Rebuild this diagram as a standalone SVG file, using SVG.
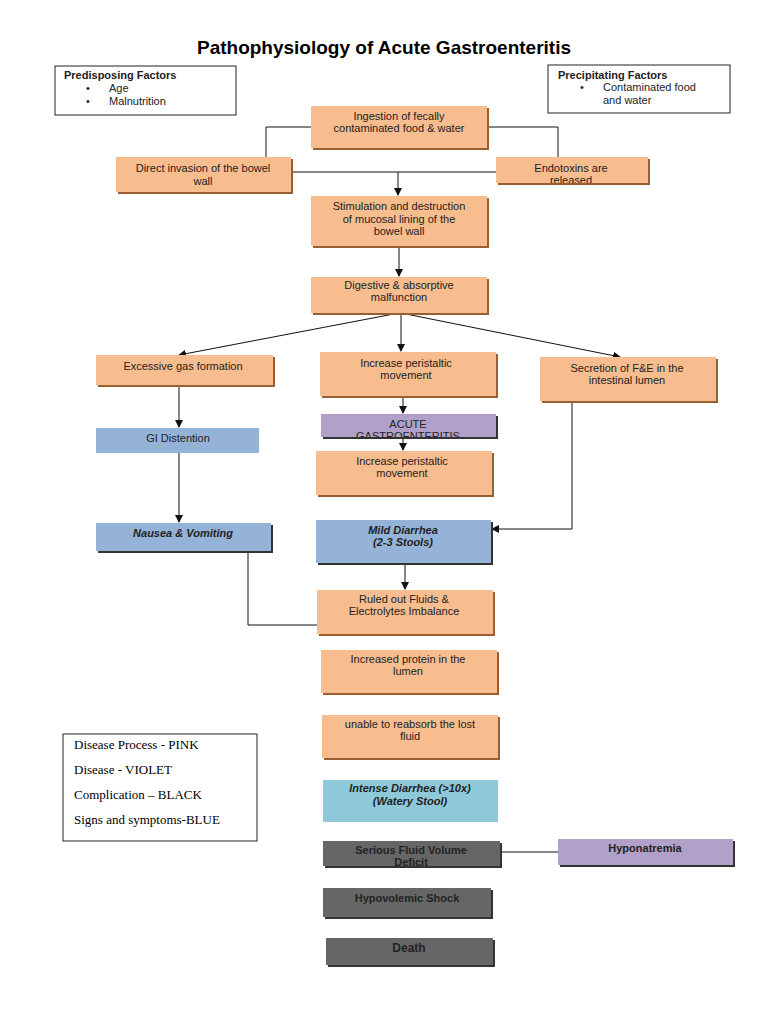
<svg xmlns="http://www.w3.org/2000/svg" width="768" height="1024" viewBox="0 0 768 1024">
<style>
text{font-family:"Liberation Sans",Arial,sans-serif;font-size:11px;fill:#222;text-anchor:middle}
.t{font-size:19px;font-weight:bold;fill:#000}
.b{font-weight:bold}
.bi{font-weight:bold;font-style:italic}
.l{text-anchor:start}
.lg{font-family:"Liberation Serif","Times New Roman",serif;font-size:13px;text-anchor:start;fill:#000}
.box{stroke:none}
.pk{fill:#f8bd8e}
.bl{fill:#95b3d7}
.vi{fill:#b1a0c7}
.cy{fill:#8dc9d9}
.gr{fill:#666}
.sh{fill:#9b5e30}
.shd{fill:#333}
.fr{fill:#fff;stroke:#222;stroke-width:1}
.c{fill:none;stroke:#111;stroke-width:1}
</style>
<defs>
<marker id="a" markerWidth="8" markerHeight="8" refX="7" refY="4" orient="auto" markerUnits="userSpaceOnUse"><path d="M0,0 L8,4 L0,8 z" fill="#111"/></marker>
<clipPath id="c1"><rect x="496" y="157" width="152" height="26"/></clipPath>
<clipPath id="c2"><rect x="321" y="414" width="175" height="23"/></clipPath>
<clipPath id="c3"><rect x="323" y="841" width="177" height="25"/></clipPath>
</defs>
<text class="t" x="384" y="54">Pathophysiology of Acute Gastroenteritis</text>
<g id="predisposing"><rect class="fr" x="55" y="66" width="181" height="49"/><text class="b l" x="64" y="79">Predisposing Factors</text><text class="l" x="86" y="92">•</text><text class="l" x="109" y="92">Age</text><text class="l" x="86" y="105">•</text><text class="l" x="109" y="105">Malnutrition</text></g>
<g id="precipitating"><rect class="fr" x="548" y="65" width="182" height="48"/><text class="b l" x="558" y="79">Precipitating Factors</text><text class="l" x="580" y="91">•</text><text class="l" x="603" y="91">Contaminated food</text><text class="l" x="603" y="104">and water</text></g>
<g id="connectors">
<path class="c" d="M311,127 H266 V158"/>
<path class="c" d="M487,127 H558 V158"/>
<path class="c" d="M291,172 H496"/>
<path class="c" d="M398,172 V195" marker-end="url(#a)"/>
<path class="c" d="M399,246 V276" marker-end="url(#a)"/>
<path class="c" d="M399,313 L179,355" marker-end="url(#a)"/>
<path class="c" d="M401,313 V351" marker-end="url(#a)"/>
<path class="c" d="M401,313 L620,357" marker-end="url(#a)"/>
<path class="c" d="M179,385 V427" marker-end="url(#a)"/>
<path class="c" d="M403,396 V413" marker-end="url(#a)"/>
<path class="c" d="M403,437 V450" marker-end="url(#a)"/>
<path class="c" d="M179,453 V522" marker-end="url(#a)"/>
<path class="c" d="M405,563 V589" marker-end="url(#a)"/>
<path class="c" d="M572,401 V529 H492" marker-end="url(#a)"/>
<path class="c" d="M248,551 V625 H317"/>
<path class="c" d="M500,852 H558" stroke="#555"/>
</g>
<g id="ingestion"><rect class="sh" x="313" y="108" width="176" height="42"/><rect class="pk" x="311" y="106" width="176" height="42"/><text x="399" y="120">Ingestion of fecally</text><text x="399" y="132">contaminated food &amp; water</text></g>
<g id="direct"><rect class="sh" x="118" y="159" width="175" height="35"/><rect class="pk" x="116" y="157" width="175" height="35"/><text x="203" y="172">Direct invasion of the bowel</text><text x="203" y="185">wall</text></g>
<g id="endotoxins"><rect class="sh" x="498" y="159" width="152" height="26"/><rect class="pk" x="496" y="157" width="152" height="26"/><g clip-path="url(#c1)"><text x="571" y="172">Endotoxins are</text><text x="571" y="184">released</text></g></g>
<g id="stimulation"><rect class="sh" x="313" y="198" width="176" height="50"/><rect class="pk" x="311" y="196" width="176" height="50"/><text x="399" y="210">Stimulation and destruction</text><text x="399" y="223">of mucosal lining of the</text><text x="399" y="235">bowel wall</text></g>
<g id="digestive"><rect class="sh" x="313" y="279" width="176" height="36"/><rect class="pk" x="311" y="277" width="176" height="36"/><text x="399" y="289">Digestive &amp; absorptive</text><text x="399" y="301">malfunction</text></g>
<g id="gas"><rect class="sh" x="98" y="357" width="177" height="30"/><rect class="pk" x="96" y="355" width="177" height="30"/><text x="183" y="370">Excessive gas formation</text></g>
<g id="peristaltic1"><rect class="sh" x="322" y="354" width="176" height="44"/><rect class="pk" x="320" y="352" width="176" height="44"/><text x="406" y="367">Increase peristaltic</text><text x="406" y="379">movement</text></g>
<g id="secretion"><rect class="sh" x="542" y="359" width="176" height="44"/><rect class="pk" x="540" y="357" width="176" height="44"/><text x="627" y="372">Secretion of F&amp;E in the</text><text x="627" y="384">intestinal lumen</text></g>
<g id="acute"><rect class="shd" x="323" y="416" width="175" height="23"/><rect class="vi" x="321" y="414" width="175" height="23"/><g clip-path="url(#c2)"><text x="408" y="428">ACUTE</text><text x="408" y="440">GASTROENTERITIS</text></g></g>
<g id="peristaltic2"><rect class="sh" x="318" y="453" width="176" height="44"/><rect class="pk" x="316" y="451" width="176" height="44"/><text x="402" y="465">Increase peristaltic</text><text x="402" y="477">movement</text></g>
<g id="gi"><rect class="bl" x="96" y="428" width="163" height="25"/><text x="178" y="442">GI Distention</text></g>
<g id="nausea"><rect class="shd" x="98" y="525" width="175" height="28"/><rect class="bl" x="96" y="523" width="175" height="28"/><text class="bi" x="183" y="537">Nausea &amp; Vomiting</text></g>
<g id="mild"><rect class="shd" x="318" y="522" width="175" height="43"/><rect class="bl" x="316" y="520" width="175" height="43"/><text class="bi" x="403" y="534">Mild Diarrhea</text><text class="bi" x="403" y="546">(2-3 Stools)</text></g>
<g id="ruled"><rect class="sh" x="319" y="592" width="176" height="44"/><rect class="pk" x="317" y="590" width="176" height="44"/><text x="404" y="603">Ruled out Fluids &amp;</text><text x="404" y="615">Electrolytes Imbalance</text></g>
<g id="protein"><rect class="sh" x="323" y="652" width="176" height="43"/><rect class="pk" x="321" y="650" width="176" height="43"/><text x="408" y="663">Increased protein in the</text><text x="408" y="675">lumen</text></g>
<g id="unable"><rect class="sh" x="324" y="717" width="176" height="43"/><rect class="pk" x="322" y="715" width="176" height="43"/><text x="410" y="728">unable to reabsorb the lost</text><text x="410" y="740">fluid</text></g>
<g id="intense"><rect class="cy" x="323" y="780" width="175" height="42"/><text class="bi" x="410" y="792">Intense Diarrhea (&gt;10x)</text><text class="bi" x="410" y="805">(Watery Stool)</text></g>
<g id="serious"><rect class="shd" x="325" y="843" width="177" height="25"/><rect class="gr" x="323" y="841" width="177" height="25"/><g clip-path="url(#c3)"><text class="b" x="411" y="854">Serious Fluid Volume</text><text class="b" x="411" y="866">Deficit</text></g></g>
<g id="hyponatremia"><rect class="shd" x="560" y="841" width="175" height="26"/><rect class="vi" x="558" y="839" width="175" height="26"/><text class="b" x="645" y="852">Hyponatremia</text></g>
<g id="hypovolemic"><rect class="shd" x="325" y="890" width="168" height="29"/><rect class="gr" x="323" y="888" width="168" height="29"/><text class="b" x="407" y="902">Hypovolemic Shock</text></g>
<g id="death"><rect class="shd" x="328" y="940" width="167" height="27"/><rect class="gr" x="326" y="938" width="167" height="27"/><text class="b" x="409" y="952" style="font-size:12px">Death</text></g>
<g id="legend"><rect class="fr" x="63" y="734" width="194" height="107"/><text class="lg" x="74" y="749">Disease Process - PINK</text><text class="lg" x="74" y="774">Disease - VIOLET</text><text class="lg" x="74" y="799">Complication – BLACK</text><text class="lg" x="74" y="824">Signs and symptoms-BLUE</text></g>
</svg>
